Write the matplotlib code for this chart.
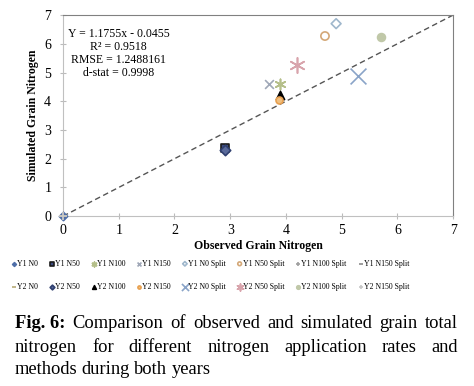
import matplotlib
matplotlib.use("Agg")
import matplotlib.pyplot as plt

plt.rcParams['font.family'] = ['Liberation Serif', 'DejaVu Serif']

# ===== DATA =====
labels = ["Y1 N0", "Y1 N50", "Y1 N100", "Y1 N150",
          "Y1 N0 Split", "Y1 N50 Split", "Y1 N100 Split", "Y1 N150 Split",
          "Y2 N0", "Y2 N50", "Y2 N100", "Y2 N150",
          "Y2 N0 Split", "Y2 N50 Split", "Y2 N100 Split", "Y2 N150 Split"]
observed = [0, 2.9, 3.9, 3.7, 4.9, 4.7, 0, 0,
            0, 2.9, 3.9, 3.88, 5.3, 4.2, 5.7, 0]
simulated = [0, 2.37, 4.6, 4.6, 6.7, 6.27, 0, 0,
             0, 2.3, 4.2, 4.05, 4.87, 5.27, 6.25, 0]

markers = ["D", "s", (6, 2, 0), "x", "D", "o", "+", "_",
           "_", "D", "^", "o", "x", (6, 2, 0), "o", "+"]
colors = ["#4f6fa8", "#1a1a1a", "#b5bf8a", "#a0a8b8", "#9fb7cc", "#d4a878", "#a0a0a0", "#8c8c8c",
          "#b8ac78", "#2f3f6f", "black", "#e8a050", "#8aa4c8", "#d8a4ac", "#c0c8a8", "#c8c8c8"]
faces = ["#4f6fa8", "#3d4a80", "none", "none", "none", "none", "none", "none",
         "none", "#5a6a9a", "black", "#f0c080", "none", "none", "#c0c8a8", "none"]
sizes = [18, 35, 55, 40, 25, 35, 40, 40,
         40, 28, 35, 25, 130, 120, 32, 40]

stats = ["Y = 1.1755x - 0.0455", "R\u00b2 = 0.9518", "RMSE = 1.2488161", "d-stat = 0.9998"]
ticks = list(range(0, 8))

fig = plt.figure(figsize=(4.74, 3.86), dpi=100)
ax = fig.add_axes([0.133, 0.44, 0.823, 0.521])

ax.plot([0, 7], [0, 7], ls=(0, (4, 2.5)), color="#555555", lw=1)
for i in range(len(labels)):
    line_mark = markers[i] in ["x", "+", "_", (6, 2, 0)]
    ax.scatter(observed[i], simulated[i], marker=markers[i], s=sizes[i],
               edgecolors=colors[i], facecolors=colors[i] if line_mark else faces[i],
               linewidths=1.2, label=labels[i], zorder=3, clip_on=False)

ax.set_xlim(0, 7)
ax.set_ylim(0, 7)
ax.set_xticks(ticks)
ax.set_yticks(ticks)
ax.tick_params(labelsize=10, direction="inout", length=5, color="#bbbbbb")
ax.tick_params(axis="y", pad=6)
ax.tick_params(axis="x", pad=3)
for s in ["top", "right"]:
    ax.spines[s].set_color("#808080")
for s in ["left", "bottom"]:
    ax.spines[s].set_color("#c0c0c0")
ax.set_xlabel("Observed Grain Nitrogen", fontweight="bold", fontsize=8.5, labelpad=2)
ax.set_ylabel("Simulated Grain Nitrogen", fontweight="bold", fontsize=8.5, labelpad=4)

# stats box, one centred line each
for k, s in enumerate(stats):
    ax.text(0.142, 0.935 - k * 0.064, s, transform=ax.transAxes, ha="center", va="top",
            fontsize=8.5)

# legend: interleave so rows are Y1 and Y2
h, l = ax.get_legend_handles_labels()
order = []
for k in range(8):
    order += [k, k + 8]
fig.legend([h[k] for k in order], [l[k] for k in order], ncol=8, loc="upper left",
           bbox_to_anchor=(0.01, 0.345), fontsize=5.6, frameon=False, handlelength=0.5,
           handletextpad=0.15, columnspacing=1.55, markerscale=0.45, labelspacing=1.9)

# ===== CAPTION (justified) =====
cap_lines = [["Fig. 6:", "Comparison", "of", "observed", "and", "simulated", "grain", "total"],
             ["nitrogen", "for", "different", "nitrogen", "application", "rates", "and"],
             ["methods", "during", "both", "years"]]
x0, x1 = 15, 458
ys = [324, 347, 369]
r = fig.canvas.get_renderer()
for li, words in enumerate(cap_lines):
    items = []
    for w in words:
        t = fig.text(0, 1 - ys[li] / 386, w, fontsize=13.3, va="center",
                     fontweight="bold" if w == "Fig. 6:" else "normal")
        items.append(t)
    widths = [t.get_window_extent(r).width for t in items]
    if li < 2:
        gap = (x1 - x0 - sum(widths)) / (len(words) - 1)
    else:
        gap = 4.2
    x = x0
    for t, wd in zip(items, widths):
        t.set_x(x / 474)
        x += wd + gap

fig.savefig("out.png", dpi=100)
